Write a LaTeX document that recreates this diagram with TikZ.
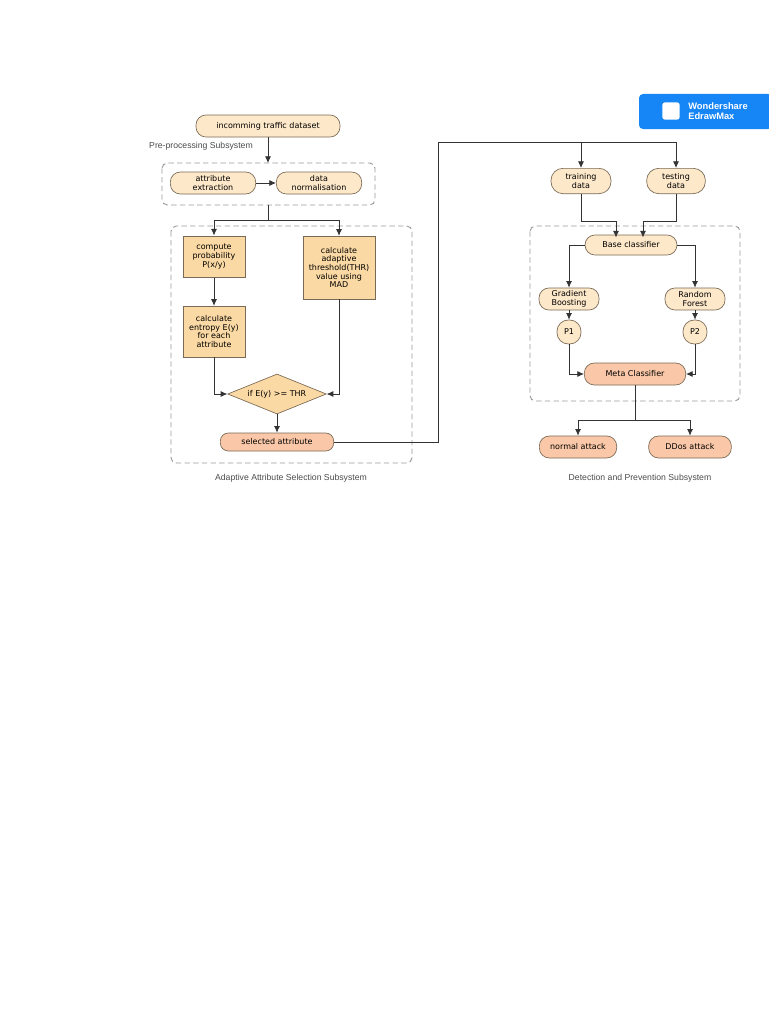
\documentclass[tikz,border=0pt]{standalone}
\usepackage{fontspec}
\setmainfont{DejaVu Sans}
\newfontfamily\labfont{Liberation Sans}
\usetikzlibrary{shapes.geometric,arrows.meta}
\definecolor{pale}{HTML}{FDE8CA}
\definecolor{tan}{HTML}{FBD9A4}
\definecolor{salmon}{HTML}{FAC8A8}
\definecolor{bord}{HTML}{7A6A55}
\definecolor{edraw}{HTML}{1685F5}
\tikzset{
 every node/.style={font=\fontsize{6}{6.5}\selectfont, align=center, inner sep=0pt},
 pill/.style={draw=bord, line width=0.5pt, fill=pale, rounded corners=7.5pt, minimum height=16.5pt},
 pillS/.style={pill, fill=salmon},
 boxr/.style={draw=bord, line width=0.5pt, fill=tan},
 grp/.style={draw=gray!80, dashed, dash pattern=on 4pt off 2.5pt, line width=0.7pt, rounded corners=4pt},
 arr/.style={draw=black!80, line width=0.6pt, -{Latex[length=5pt,width=4.5pt]}},
 ln/.style={draw=black!80, line width=0.6pt},
 lab/.style={font=\labfont\fontsize{6.5}{7}\selectfont, text=black!70}
}
\begin{document}
\begin{tikzpicture}[x=0.75pt,y=-0.75pt]
\useasboundingbox[fill=white] (0,0) rectangle (768,1024);
% banner
\fill[edraw, rounded corners=3pt] (639,94) rectangle (772,129);
\node[fill=white, rounded corners=2pt, minimum size=13pt] (logo) at (671,111) {};
\node[font=\labfont\bfseries\fontsize{7}{8}\selectfont, text=white, align=left, anchor=west] (brand) at (688,111) {Wondershare\\EdrawMax};
% groups
\draw[grp] (162,163) rectangle (375,205);
\draw[grp] (171,226) rectangle (412,463);
\draw[grp] (530,226) rectangle (740,401);
\node[lab] (l1) at (201,146) {Pre-processing Subsystem};
\coordinate (pretop) at (268,163);
\coordinate (prebot) at (268,205);
\node[lab] (l2) at (291,478) {Adaptive Attribute Selection Subsystem};
\node[lab] (l3) at (640,478) {Detection and Prevention Subsystem};
% left nodes
\node[pill, minimum width=108pt] (inc) at (268,126) {incomming traffic dataset};
\node[pill, minimum width=64pt] (ext) at (213,183) {attribute\\extraction};
\node[pill, minimum width=64pt] (norm) at (319,183) {data\\normalisation};
\node[boxr, minimum width=46.5pt, minimum height=31pt] (prob) at (214,256.5) {compute\\probability\\P(x/y)};
\node[boxr, minimum width=46.5pt, minimum height=38pt] (ent) at (214,331.5) {calculate\\entropy E(y)\\for each\\attribute};
\node[boxr, minimum width=54pt, minimum height=47pt] (thr) at (339,267.5) {calculate\\adaptive\\threshold(THR)\\value using\\MAD};
\node[diamond, draw=bord, line width=0.5pt, fill=tan, minimum width=74pt, minimum height=30pt, aspect=2.4] (dia) at (277,394) {if E(y) >= THR};
\node[pillS, minimum width=85pt, minimum height=13.5pt, rounded corners=6pt] (sel) at (277,442) {selected attribute};
% right nodes
\node[pill, minimum width=45pt, minimum height=19pt, rounded corners=9pt] (train) at (581,181) {training\\data};
\node[pill, minimum width=44pt, minimum height=19pt, rounded corners=9pt] (test) at (676,181) {testing\\data};
\node[pill, minimum width=69pt, minimum height=15pt] (base) at (631,245) {Base classifier};
\node[pill, minimum width=45pt] (gb) at (569,299) {Gradient\\Boosting};
\node[pill, minimum width=45pt] (rf) at (695,299) {Random\\Forest};
\node[pill, minimum width=18pt, minimum height=18pt, rounded corners=8.5pt] (p1) at (569,332) {P1};
\node[pill, minimum width=18pt, minimum height=18pt, rounded corners=8.5pt] (p2) at (695,332) {P2};
\node[pillS, minimum width=76pt] (meta) at (635,374) {Meta Classifier};
\node[pillS, minimum width=58pt] (norma) at (578,447) {normal attack};
\node[pillS, minimum width=62pt] (ddos) at (690,447) {DDos attack};
% connectors
\draw[arr] (inc) -- (pretop);
\draw[arr] (ext) -- (norm);
\draw[arr] (prebot) -- ++(0,15) -| (prob.north);
\draw[arr] (prebot) -- ++(0,15) -| (thr.north);
\draw[arr] (prob) -- (ent);
\draw[arr] (ent.south) |- (dia.west);
\draw[arr] (thr.south) |- (dia.east);
\draw[arr] (dia) -- (sel);
\draw[ln] (sel.east) -- (438,442) -- (438,142) -- (676,142);
\draw[arr] (581,142) -- (train.north);
\draw[arr] (676,142) -- (test.north);
\draw[arr] (train.south) |- (616,221) -- (616,237.5);
\draw[arr] (test.south) |- (643,221) -- (643,237.5);
\draw[arr] (base.west) -| (gb.north);
\draw[arr] (base.east) -| (rf.north);
\draw[arr] (gb) -- (p1);
\draw[arr] (rf) -- (p2);
\draw[arr] (p1.south) |- (meta.west);
\draw[arr] (p2.south) |- (meta.east);
\draw[ln] (meta.south) -- (635,420);
\draw[arr] (635,420) -| (norma.north);
\draw[arr] (635,420) -| (ddos.north);
\end{tikzpicture}
\end{document}
